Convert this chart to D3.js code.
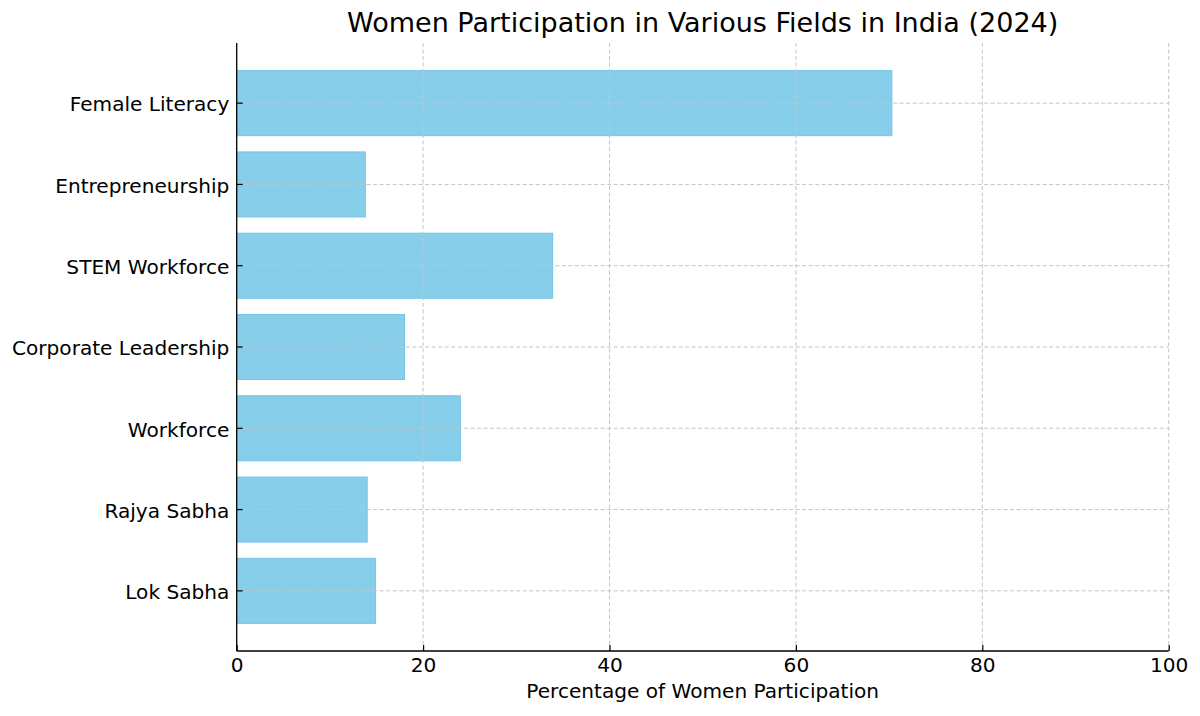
<!DOCTYPE html>
<html>
<head>
<meta charset="utf-8">
<script src="https://cdn.jsdelivr.net/npm/d3@7"></script>
<style>
  body { margin: 0; background: #fff; }
  text { font-family: "DejaVu Sans", sans-serif; fill: #000; }
</style>
</head>
<body>
<div id="chart"></div>
<script>
// categories top to bottom, values in percent
var categories = ['Female Literacy', 'Entrepreneurship', 'STEM Workforce',
  'Corporate Leadership', 'Workforce', 'Rajya Sabha', 'Lok Sabha'];
var values = [70.3, 13.8, 33.9, 18, 24, 14, 14.9];
var xTicks = [0, 20, 40, 60, 80, 100];

var width = 1200, height = 716;
var margin = { top: 43, right: 31.3, bottom: 65, left: 236.7 };

var svg = d3.select('#chart')
  .append('svg')
  .attr('width', width)
  .attr('height', height);

var x = d3.scaleLinear()
  .domain([0, 100])
  .range([margin.left, width - margin.right]);

var y = d3.scaleBand()
  .domain(categories)
  .range([margin.top, height - margin.bottom])
  .paddingInner(0.2)
  .paddingOuter(0.34);

var data = categories.map(function (c, i) { return { name: c, value: values[i] }; });

// bars
svg.append('g')
  .selectAll('rect')
  .data(data)
  .enter()
  .append('rect')
  .attr('x', x(0))
  .attr('y', function (d) { return y(d.name); })
  .attr('width', function (d) { return x(d.value) - x(0); })
  .attr('height', y.bandwidth())
  .attr('fill', '#87ceeb')
  .attr('stroke', '#74c3ea')
  .attr('stroke-width', 1);

// grid lines, drawn over the bars
var grid = svg.append('g')
  .attr('stroke', '#c4c4c4')
  .attr('stroke-width', 1)
  .attr('stroke-dasharray', '4,2.5');

grid.selectAll('line.v')
  .data(xTicks)
  .enter()
  .append('line')
  .attr('class', 'v')
  .attr('x1', function (d) { return x(d); })
  .attr('x2', function (d) { return x(d); })
  .attr('y1', margin.top)
  .attr('y2', height - margin.bottom);

grid.selectAll('line.h')
  .data(categories)
  .enter()
  .append('line')
  .attr('class', 'h')
  .attr('x1', margin.left)
  .attr('x2', width - margin.right)
  .attr('y1', function (d) { return y(d) + y.bandwidth() / 2; })
  .attr('y2', function (d) { return y(d) + y.bandwidth() / 2; });

// x axis (ticks pointing inward)
var xAxis = svg.append('g')
  .attr('transform', 'translate(0,' + (height - margin.bottom) + ')')
  .call(d3.axisBottom(x).tickValues(xTicks).tickSizeInner(-6).tickSizeOuter(0).tickPadding(7));
xAxis.select('.domain').remove();
xAxis.selectAll('line').attr('stroke', '#000').attr('stroke-width', 1.2);
xAxis.selectAll('text').attr('font-size', '20.1px').attr('font-family', 'DejaVu Sans');

// y axis
var yAxis = svg.append('g')
  .attr('transform', 'translate(' + margin.left + ',0)')
  .call(d3.axisLeft(y).tickSizeInner(-6).tickSizeOuter(0).tickPadding(7.4));
yAxis.select('.domain').remove();
yAxis.selectAll('line').attr('stroke', '#000').attr('stroke-width', 1.2);
yAxis.selectAll('text')
  .attr('font-size', '20.1px')
  .attr('font-family', 'DejaVu Sans')
  .attr('dy', '0.41em');

// spines
svg.append('line')
  .attr('x1', margin.left).attr('x2', margin.left)
  .attr('y1', margin.top).attr('y2', height - margin.bottom)
  .attr('stroke', '#000').attr('stroke-width', 1.3);
svg.append('line')
  .attr('x1', margin.left).attr('x2', width - margin.right)
  .attr('y1', height - margin.bottom).attr('y2', height - margin.bottom)
  .attr('stroke', '#000').attr('stroke-width', 1.3);

// title and axis label
svg.append('text')
  .attr('x', (x(0) + x(100)) / 2)
  .attr('y', 32.3)
  .attr('text-anchor', 'middle')
  .attr('font-size', '27px')
  .text('Women Participation in Various Fields in India (2024)');

svg.append('text')
  .attr('x', (x(0) + x(100)) / 2)
  .attr('y', 698)
  .attr('text-anchor', 'middle')
  .attr('font-size', '20.1px')
  .text('Percentage of Women Participation');
</script>
</body>
</html>
